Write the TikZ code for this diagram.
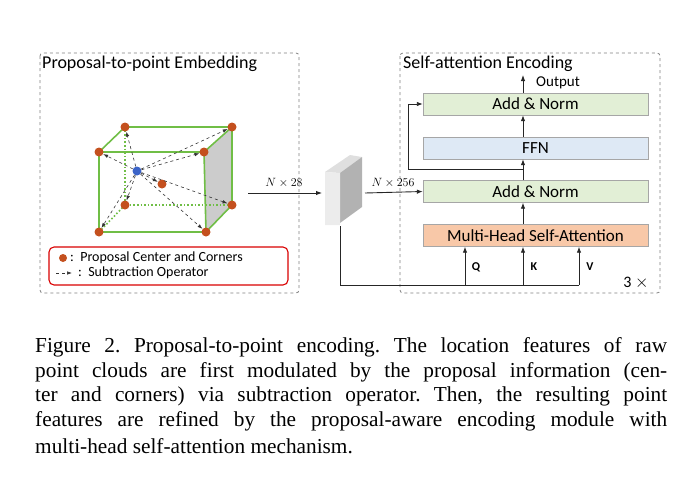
\documentclass[tikz,border=0pt]{standalone}
\usepackage{fontspec}
\setmainfont{Liberation Serif}
\newfontfamily\dsans{Carlito}
\usetikzlibrary{arrows.meta}
\definecolor{cgreen}{RGB}{112,190,70}
\definecolor{corange}{RGB}{196,80,30}
\definecolor{cblue}{RGB}{60,100,200}
\definecolor{bgreen}{RGB}{226,239,214}
\definecolor{bblue}{RGB}{222,233,245}
\definecolor{borange}{RGB}{248,200,168}
\frenchspacing
\begin{document}
\begin{tikzpicture}[x=1pt,y=-1pt,
  frame/.style={draw=gray,dashed,rounded corners=3pt,line width=0.8pt},
  cedge/.style={draw=cgreen,line width=1.6pt},
  hedge/.style={draw=cgreen,line width=1.6pt,dotted},
  sub/.style={draw=black!80,dashed,line width=0.6pt,-{Latex[length=5pt,width=3.5pt]}},
  dot/.style={circle,fill=corange,minimum size=9pt,inner sep=0pt},
  blk/.style={draw=gray!70,minimum width=225pt,minimum height=22pt,inner sep=0pt,font=\dsans\fontsize{17}{17}\selectfont},
  arr/.style={draw=black!85,line width=0.9pt,-{Latex[length=6pt,width=4.5pt]}},
  ln/.style={draw=black!85,line width=0.9pt},
  capline/.style={anchor=west,inner sep=0pt,font=\fontsize{21.3}{21.3}\selectfont}]
\useasboundingbox (0,0) rectangle (683,491);
% left frame
\draw[frame] (40,53) rectangle (299,293);
\node[anchor=north west,font=\dsans\fontsize{18}{18}\selectfont,inner sep=1pt] (t1) at (41,55) {Proposal-to-point Embedding};
% cube
\coordinate (ftl) at (99,152); \coordinate (ftr) at (204,152);
\coordinate (btl) at (125,127); \coordinate (btr) at (232,127);
\coordinate (fbl) at (99,232); \coordinate (fbr) at (206,232);
\coordinate (bbl) at (125,205); \coordinate (bbr) at (232,205);
\fill[gray!40] (ftr) -- (btr) -- (bbr) -- (fbr) -- cycle;
\draw[hedge] (btl) -- (bbl) -- (bbr);
\draw[hedge] (bbl) -- (fbl);
\draw[cedge] (ftl) -- (ftr) -- (fbr) -- (fbl) -- cycle;
\draw[cedge] (ftl) -- (btl) -- (btr) -- (ftr);
\draw[cedge] (btr) -- (bbr) -- (fbr);
\node[circle,fill=cblue,minimum size=9pt,inner sep=0pt] (c) at (137,171) {};
\foreach \p/\n in {ftl/a,ftr/b,btl/d,btr/e,fbl/f,fbr/g,bbl/h,bbr/i} {\node[dot] (\n) at (\p) {};}
\node[dot] (x) at (162,184) {};
\foreach \n in {a,b,d,e,f,g,h,i,x} {\draw[sub] (c) -- (\n);}
% legend
\draw[draw=red!85!black,line width=1.1pt,rounded corners=5pt] (49,247) rectangle (288,285);
\node[dot,minimum size=8pt] (ld) at (63,258) {};
\node[anchor=west,font=\dsans\fontsize{14}{14}\selectfont,inner sep=0pt] (l1) at (70,258) {:\ \ Proposal Center and Corners};
\coordinate (la) at (56,273); \coordinate (lb) at (72,273);
\draw[sub] (la) -- (lb);
\node[anchor=west,font=\dsans\fontsize{14}{14}\selectfont,inner sep=0pt] (l2) at (78,273) {:\ \ Subtraction Operator};
% slab
\fill[gray!25] (325,172) -- (350,155) -- (362,157) -- (340,173) -- cycle;
\fill[gray!60] (340,173) -- (362,157) -- (362,207) -- (340,223) -- cycle;
\fill[gray!15] (325,172) -- (340,173) -- (340,225) -- (325,225) -- cycle;
\coordinate (slabL) at (322,193); \coordinate (slabR) at (365,193); \coordinate (slabB) at (340,226);
% right frame
\draw[frame] (400,53) rectangle (660,293);
\node[anchor=north west,font=\dsans\fontsize{18}{18}\selectfont,inner sep=1pt] (t2) at (402,55) {Self-attention Encoding};
\node[blk,fill=bgreen] (an1) at (535.5,104) {Add \& Norm};
\node[blk,fill=bblue] (ffn) at (535.5,148) {FFN};
\node[blk,fill=bgreen] (an2) at (535.5,191.5) {Add \& Norm};
\node[blk,fill=borange] (mh) at (535.5,235.5) {Multi-Head Self-Attention};
\coordinate (out) at (523,75);
\node[anchor=west,font=\dsans\fontsize{15}{15}\selectfont,inner sep=0pt] (ot) at (536,83) {Output};
\draw[arr] (an1.north -| out) -- (out);
\draw[arr] (ffn.north -| out) -- (an1.south -| out);
\draw[arr] (an2.north -| out) -- (ffn.south -| out);
\draw[arr] (mh.north -| out) -- (an2.south -| out);
\coordinate (sk) at (408,169);
\draw[arr] (523,169) -- (sk) |- (an1.west);
% inputs
\coordinate (q) at (465,285); \coordinate (k) at (523,285); \coordinate (v) at (579,285);
\draw[ln] (slabB) |- (v);
\draw[arr] (q) -- (q |- mh.south);
\draw[arr] (k) -- (k |- mh.south);
\draw[arr] (v) -- (v |- mh.south);
\node[font=\dsans\bfseries\fontsize{12}{12}\selectfont] (ql) at (476,267) {Q};
\node[font=\dsans\bfseries\fontsize{12}{12}\selectfont] (kl) at (534,267) {K};
\node[font=\dsans\bfseries\fontsize{12}{12}\selectfont] (vl) at (590,267) {V};
\node[font=\dsans\fontsize{16}{16}\selectfont] (three) at (636,283) {3 $\times$};
% connectors
\coordinate (s28) at (248,193);
\draw[arr] (s28) -- (slabL);
\node[font=\fontsize{13}{13}\selectfont] (n28) at (284,183) {$N\times 28$};
\draw[arr] (slabR) -- (an2.west);
\node[font=\fontsize{13}{13}\selectfont] (n256) at (393,183) {$N\times 256$};
% caption
\node[capline] (c1) at (35,347) {\makebox[632pt][s]{Figure 2. Proposal-to-point encoding. The location features of raw}};
\node[capline] (c2) at (35,372) {\makebox[632pt][s]{point clouds are first modulated by the proposal information (cen-}};
\node[capline] (c3) at (35,396) {\makebox[632pt][s]{ter and corners) via subtraction operator. Then, the resulting point}};
\node[capline] (c4) at (35,421) {\makebox[632pt][s]{features are refined by the proposal-aware encoding module with}};
\node[capline] (c5) at (35,446) {multi-head self-attention mechanism.};
\end{tikzpicture}
\end{document}
